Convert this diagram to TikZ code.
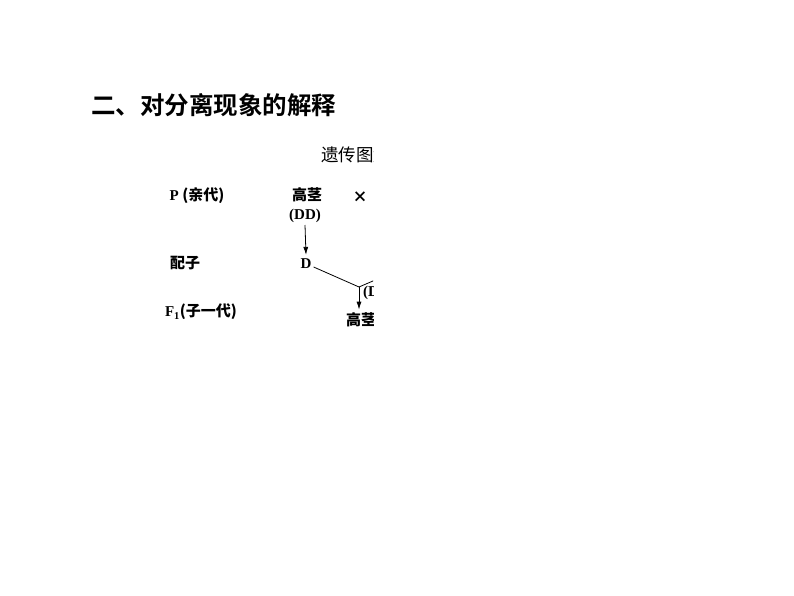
\documentclass[tikz,border=0pt]{standalone}
\usepackage{fontspec}
\usetikzlibrary{arrows.meta}
\setmainfont{Liberation Serif}
\newfontfamily\cjk{Noto Sans CJK SC}
\newfontfamily\cjkbold{Noto Sans CJK SC Bold}
\newcommand{\zh}[1]{{\cjk #1}}
\begin{document}
\begin{tikzpicture}[
	x=1pt, y=-1pt,
	label/.style={
		inner sep=0pt,
		font=\fontsize{15}{17}\selectfont\bfseries,
	},
	ArrowC1/.style={% thin connectors
		line width=0.8pt,
	},
	tip/.style={-{Latex[length=8pt,width=5pt]}},
]
\useasboundingbox (0,0) rectangle (794,596);
\fill[white] (0,0) rectangle (794,596);

\begin{scope}
\clip (0,0) rectangle (373,596);

\node[anchor=west, inner sep=0pt, font=\fontsize{24.5}{27}\selectfont\cjkbold] (title) at (91,105) {二、对分离现象的解释};
\node[anchor=west, inner sep=0pt, font=\fontsize{17.5}{20}\selectfont\cjk] (scheme) at (321,155) {遗传图解};

\node[label] (p) at (197,196) {P \zh{(亲代)}};
\node[label] (gam) at (185,263) {\zh{配子}};
\node[label] (f1) at (201,312) {F\textsubscript{1}\zh{(子一代)}};

\node[label] (tall) at (307,195) {\zh{高茎}};
\node[label] (cross) at (360,197) {\zh{×}};
\node[label] (DD) at (305,216) {(DD)};
\node[label] (D) at (306,264) {D};
\coordinate (join) at (359,287);
\coordinate (dright) at (410,265);
\node[label, anchor=west] (tallf) at (346,320) {\zh{高茎}};
\node[label, anchor=west] (Dd) at (363,293) {(Dd)};

\draw[tip, ArrowC1] ([yshift=-2]DD.south) -- ([yshift=4]D.north);
\draw[ArrowC1] ([shift={(2,3)}]D.east) -- (join);
\draw[ArrowC1] (join) -- (dright);
\draw[tip, ArrowC1] (join) -- ([yshift=3]join |- tallf.north);
\end{scope}
\end{tikzpicture}
\end{document}
